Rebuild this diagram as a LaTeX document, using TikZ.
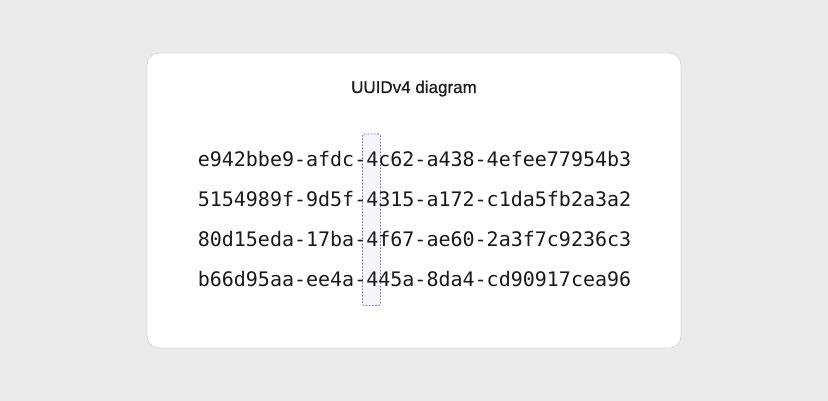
\documentclass[tikz,border=0pt]{standalone}
\usepackage{fontspec}
\setmainfont{Liberation Sans}
\setmonofont{DejaVu Sans Mono}
\newfontfamily\titlefont{Liberation Sans}[FakeBold=0.6]
\usepackage{tikz}
\usetikzlibrary{positioning}
\definecolor{pagebg}{HTML}{EBEBEB}
\definecolor{cardline}{HTML}{DADADA}
\definecolor{markline}{HTML}{7A6AD8}
\definecolor{markfill}{HTML}{F7F6FD}
\definecolor{inkcolor}{HTML}{1A1A1A}

\begin{document}
\begin{tikzpicture}[
    x=1pt, y=-1pt,
    card/.style={draw=cardline, line width=0.8pt, fill=white, rounded corners=12pt, minimum width=534pt, minimum height=295pt, inner sep=0pt},
    heading/.style={font=\titlefont\fontsize{17}{19}\selectfont, text=inkcolor, anchor=base, inner sep=0pt},
    uuid/.style={font=\ttfamily\fontsize{20}{24}\selectfont, text=inkcolor, anchor=base, inner sep=0pt},
    marker/.style={draw=markline, fill=markfill, line width=0.9pt, dash pattern=on 1.6pt off 1.6pt, rounded corners=2pt, minimum width=18pt, minimum height=171.5pt, inner sep=0pt},
]
    % Canvas
    \fill[pagebg] (0, 0) rectangle (828, 401);
    \useasboundingbox (0, 0) rectangle (828, 401);

    % Card and title
    \node[card] (card) at (414, 200.5) {};
    \node[heading] (title) at (414, 93) {UUIDv4 diagram};

    % Version digit column
    \node[marker] (version) at (371.5, 219.75) {};

    % Identifiers
    \node[uuid] (row1) at (414.5, 167) {e942bbe9-afdc-4c62-a438-4efee77954b3};
    \node[uuid] (row2) at (414.5, 206.7) {5154989f-9d5f-4315-a172-c1da5fb2a3a2};
    \node[uuid] (row3) at (414.5, 246.4) {80d15eda-17ba-4f67-ae60-2a3f7c9236c3};
    \node[uuid] (row4) at (414.5, 286.1) {b66d95aa-ee4a-445a-8da4-cd90917cea96};

\end{tikzpicture}
\end{document}
